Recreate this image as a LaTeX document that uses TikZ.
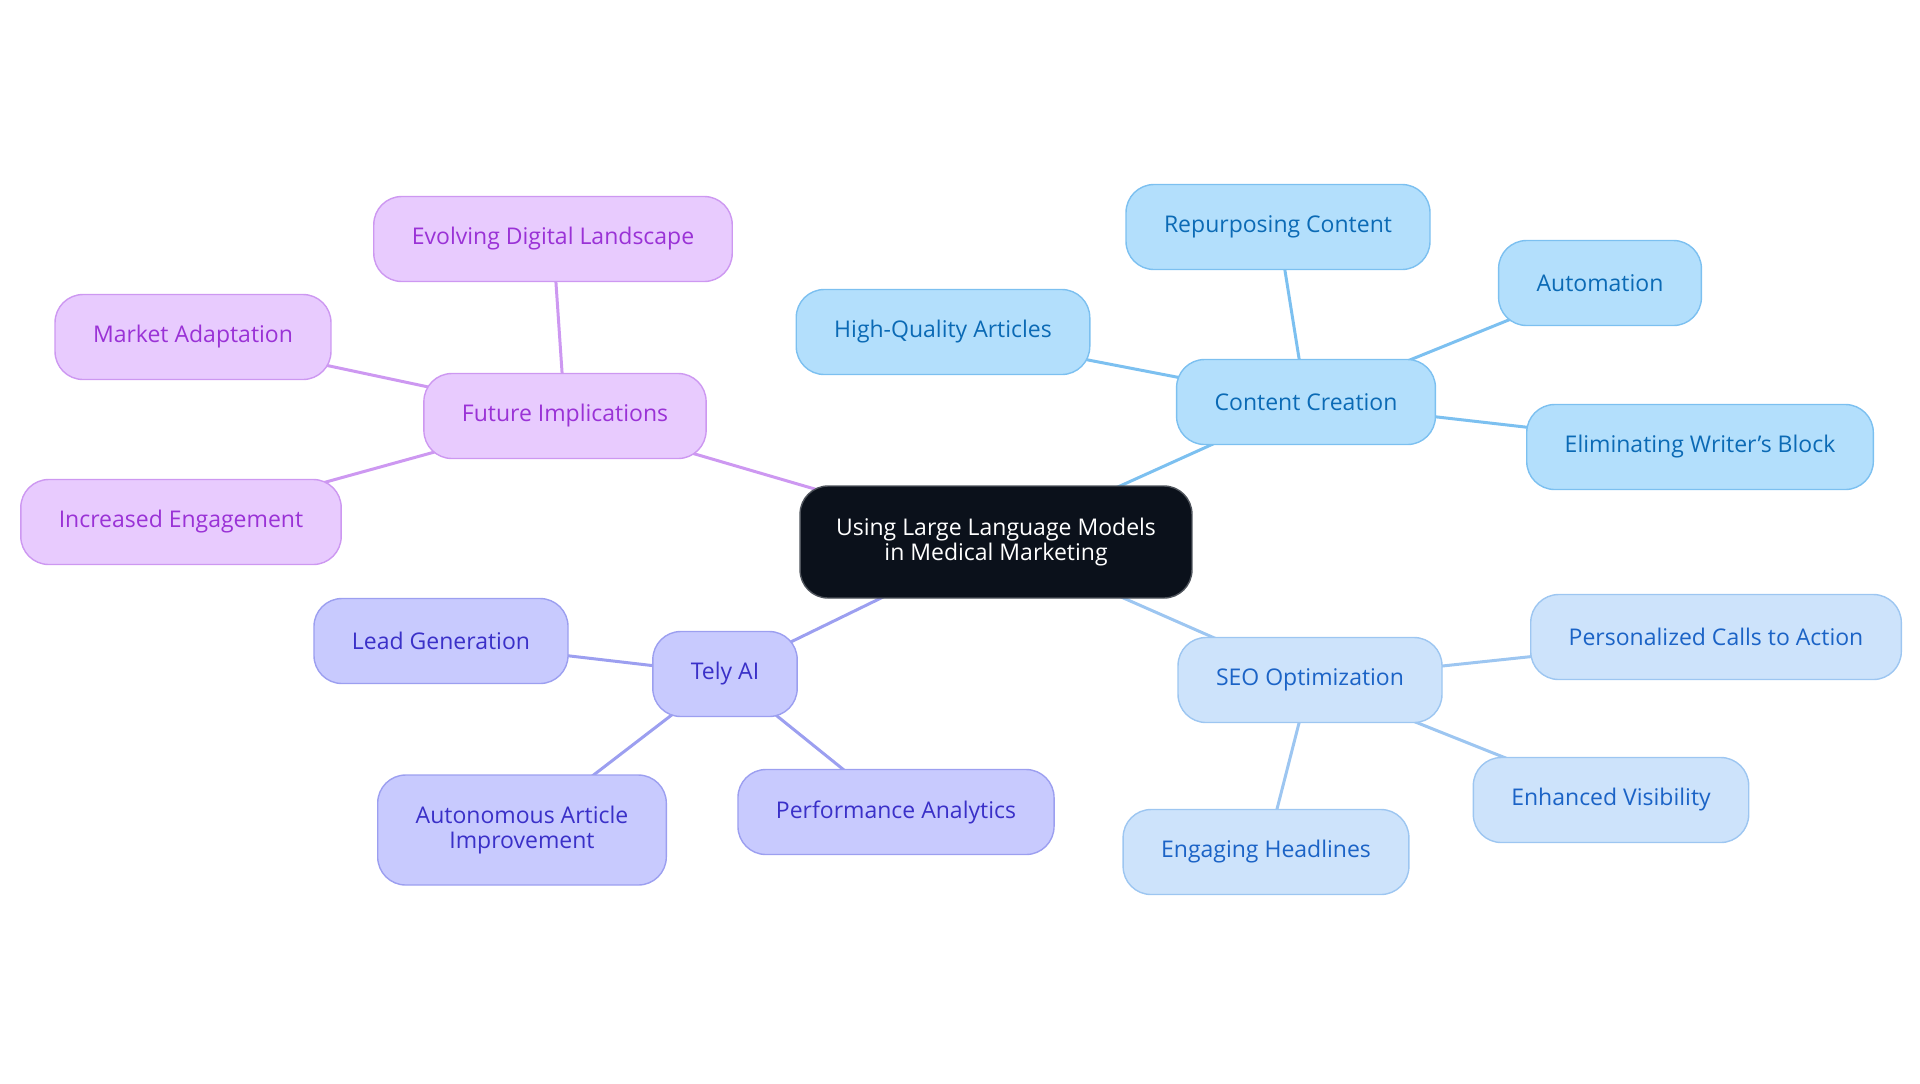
\documentclass[tikz,border=0pt]{standalone}
\usepackage{fontspec}
\setmainfont{Open Sans}
\usepackage{tikz}
\usetikzlibrary{backgrounds}

\definecolor{rootfill}{HTML}{0B111B}
\definecolor{rootline}{HTML}{4F545C}
\definecolor{ccfill}{HTML}{B3DFFC}
\definecolor{ccline}{HTML}{7CC0F0}
\definecolor{cctext}{HTML}{0B6AB5}
\definecolor{seofill}{HTML}{CDE3FB}
\definecolor{seoline}{HTML}{9DC6F1}
\definecolor{seotext}{HTML}{1B63C6}
\definecolor{telyfill}{HTML}{C8CAFE}
\definecolor{telyline}{HTML}{9C9FF0}
\definecolor{telytext}{HTML}{3A30C8}
\definecolor{futfill}{HTML}{E8CBFE}
\definecolor{futline}{HTML}{CD98F1}
\definecolor{futtext}{HTML}{9A32D6}

\begin{document}
\begin{tikzpicture}[x=0.5pt, y=-0.5pt,
  box/.style={rounded corners=14pt, line width=0.7pt, inner xsep=19pt,
    minimum height=42.5pt, align=center,
    font=\fontsize{11.5}{12.5}\selectfont},
  root/.style={box, fill=rootfill, draw=rootline, text=white,
    inner xsep=18pt, minimum height=56pt},
  ccbox/.style={box, fill=ccfill, draw=ccline, text=cctext},
  seobox/.style={box, fill=seofill, draw=seoline, text=seotext},
  telybox/.style={box, fill=telyfill, draw=telyline, text=telytext},
  futbox/.style={box, fill=futfill, draw=futline, text=futtext},
  link/.style={line width=1.5pt}]
\useasboundingbox (0,0) rectangle (1920,1083);

% root
\node[root] (llm) at (996,542) {Using Large Language Models\\in Medical Marketing};

% content creation
\node[ccbox] (content) at (1306,402) {Content Creation};
\node[ccbox] (repurp) at (1278,227) {Repurposing Content};
\node[ccbox] (autom) at (1600,283) {Automation};
\node[ccbox] (articles) at (943,332) {High-Quality Articles};
\node[ccbox] (block) at (1700,447) {Eliminating Writer's Block};

% seo
\node[seobox] (seo) at (1310,680) {SEO Optimization};
\node[seobox] (calls) at (1716,637) {Personalized Calls to Action};
\node[seobox] (visib) at (1611,800) {Enhanced Visibility};
\node[seobox] (headl) at (1266,852) {Engaging Headlines};

% tely
\node[telybox] (tely) at (725,674) {Tely AI};
\node[telybox] (lead) at (441,641) {Lead Generation};
\node[telybox, minimum height=55pt] (autoart) at (522,830) {Autonomous Article\\Improvement};
\node[telybox] (perf) at (896,812) {Performance Analytics};

% future
\node[futbox] (future) at (565,416) {Future Implications};
\node[futbox] (evolv) at (553,239) {Evolving Digital Landscape};
\node[futbox] (market) at (193,337) {Market Adaptation};
\node[futbox] (engage) at (181,522) {Increased Engagement};

% links, behind the boxes
\begin{scope}[on background layer]
\draw[link, ccline] (llm.center) -- (content.center);
\draw[link, ccline] (content.center) -- (repurp.center);
\draw[link, ccline] (content.center) -- (autom.center);
\draw[link, ccline] (content.center) -- (articles.center);
\draw[link, ccline] (content.center) -- (block.center);

\draw[link, seoline] (llm.center) -- (seo.center);
\draw[link, seoline] (seo.center) -- (calls.center);
\draw[link, seoline] (seo.center) -- (visib.center);
\draw[link, seoline] (seo.center) -- (headl.center);

\draw[link, telyline] (llm.center) -- (tely.center);
\draw[link, telyline] (tely.center) -- (lead.center);
\draw[link, telyline] (tely.center) -- (autoart.center);
\draw[link, telyline] (tely.center) -- (perf.center);

\draw[link, futline] (llm.center) -- (future.center);
\draw[link, futline] (future.center) -- (evolv.center);
\draw[link, futline] (future.center) -- (market.center);
\draw[link, futline] (future.center) -- (engage.center);
\end{scope}
\end{tikzpicture}
\end{document}
